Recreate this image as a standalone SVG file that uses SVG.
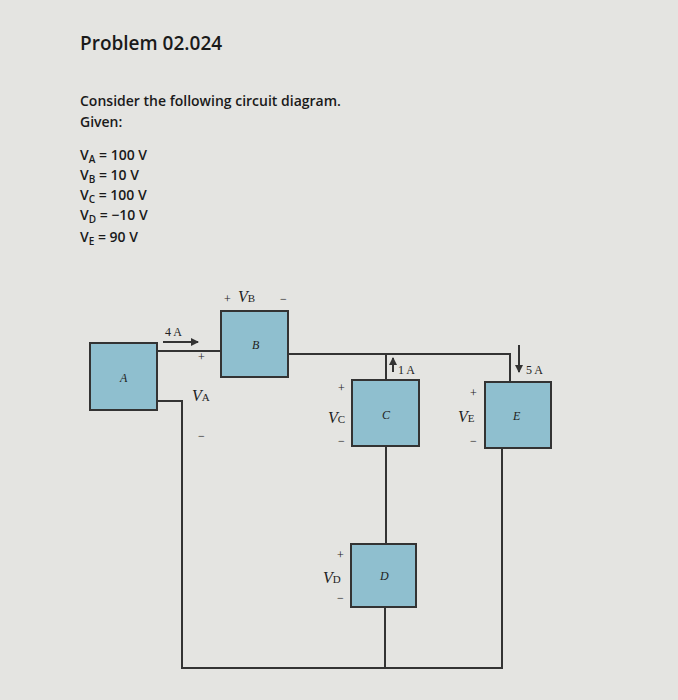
<svg xmlns="http://www.w3.org/2000/svg" width="678" height="700" viewBox="0 0 678 700">
<style>
.t{font-family:"Open Sans","Liberation Sans",Arial,sans-serif;fill:#1a1a1a;font-weight:600}
.s{font-family:"Liberation Serif","Times New Roman",serif;fill:#222;font-style:italic}
.p{font-family:"Liberation Serif",serif;fill:#222;font-size:12px}
.box{fill:#8fbfcf;stroke:#333;stroke-width:2}
.w{fill:none;stroke:#333;stroke-width:2}
</style>
<defs><marker id="ar" markerWidth="8" markerHeight="8" refX="7" refY="4" orient="auto" markerUnits="userSpaceOnUse"><path d="M0,0 L8,4 L0,8 Z" fill="#333"/></marker></defs>
<rect width="678" height="700" fill="#e4e4e1"/>
<text class="t" x="80" y="50" font-size="19">Problem 02.024</text>
<g class="t" font-size="14">
<text x="80" y="106">Consider the following circuit diagram.</text>
<text x="80" y="127">Given:</text>
<text x="80" y="160">V<tspan font-size="10" dy="3">A</tspan><tspan dy="-3"> = 100 V</tspan></text>
<text x="80" y="180">V<tspan font-size="10" dy="3">B</tspan><tspan dy="-3"> = 10 V</tspan></text>
<text x="80" y="200">V<tspan font-size="10" dy="3">C</tspan><tspan dy="-3"> = 100 V</tspan></text>
<text x="80" y="220">V<tspan font-size="10" dy="3">D</tspan><tspan dy="-3"> = −10 V</tspan></text>
<text x="80" y="242">V<tspan font-size="10" dy="3">E</tspan><tspan dy="-3"> = 90 V</tspan></text>
</g>
<g id="connectors">
<path class="w" d="M157,351 H221"/>
<path class="w" d="M288,354 H510 V382"/>
<path class="w" d="M386,354 V380"/>
<path class="w" d="M157,401 H182 V668 H502 V448"/>
<path class="w" d="M386,446 V544 M385,607 V668"/>
<path class="w" d="M163,342 H198" marker-end="url(#ar)" stroke-width="1.5"/>
<path class="w" d="M393,372 V358" marker-end="url(#ar)" stroke-width="1.5"/>
<path class="w" d="M519,345 V372" marker-end="url(#ar)" stroke-width="1.5"/>
</g>
<g id="A"><rect class="box" x="90" y="343" width="67" height="67"/><text class="s" x="120" y="382" font-size="12">A</text></g>
<g id="B"><rect class="box" x="221" y="311" width="67" height="66"/><text class="s" x="252" y="349" font-size="12">B</text></g>
<g id="C"><rect class="box" x="352" y="380" width="67" height="66"/><text class="s" x="382" y="419" font-size="12">C</text></g>
<g id="D"><rect class="box" x="351" y="544" width="65" height="63"/><text class="s" x="380" y="580" font-size="12">D</text></g>
<g id="E"><rect class="box" x="485" y="382" width="66" height="66"/><text class="s" x="513" y="420" font-size="12">E</text></g>
<g id="labels">
<text class="p" x="165" y="336" font-size="13">4 A</text>
<text class="p" x="398" y="374" font-size="12">1 A</text>
<text class="p" x="526" y="374" font-size="12">5 A</text>
<text class="s" x="238" y="302" font-size="16">V<tspan font-size="11" font-style="normal">B</tspan></text>
<text class="p" x="224" y="303">+</text><text class="p" x="280" y="303">−</text>
<text class="p" x="198" y="361">+</text>
<text class="s" x="192" y="401" font-size="16">V<tspan font-size="11" font-style="normal">A</tspan></text>
<text class="p" x="198" y="440">−</text>
<text class="p" x="338" y="392">+</text>
<text class="s" x="328" y="423" font-size="16">V<tspan font-size="11" font-style="normal">C</tspan></text>
<text class="p" x="338" y="445">−</text>
<text class="p" x="470" y="397">+</text>
<text class="s" x="458" y="422" font-size="16">V<tspan font-size="11" font-style="normal">E</tspan></text>
<text class="p" x="470" y="445">−</text>
<text class="p" x="337" y="559">+</text>
<text class="s" x="323" y="583" font-size="16">V<tspan font-size="11" font-style="normal">D</tspan></text>
<text class="p" x="337" y="602">−</text>
</g>
</svg>
